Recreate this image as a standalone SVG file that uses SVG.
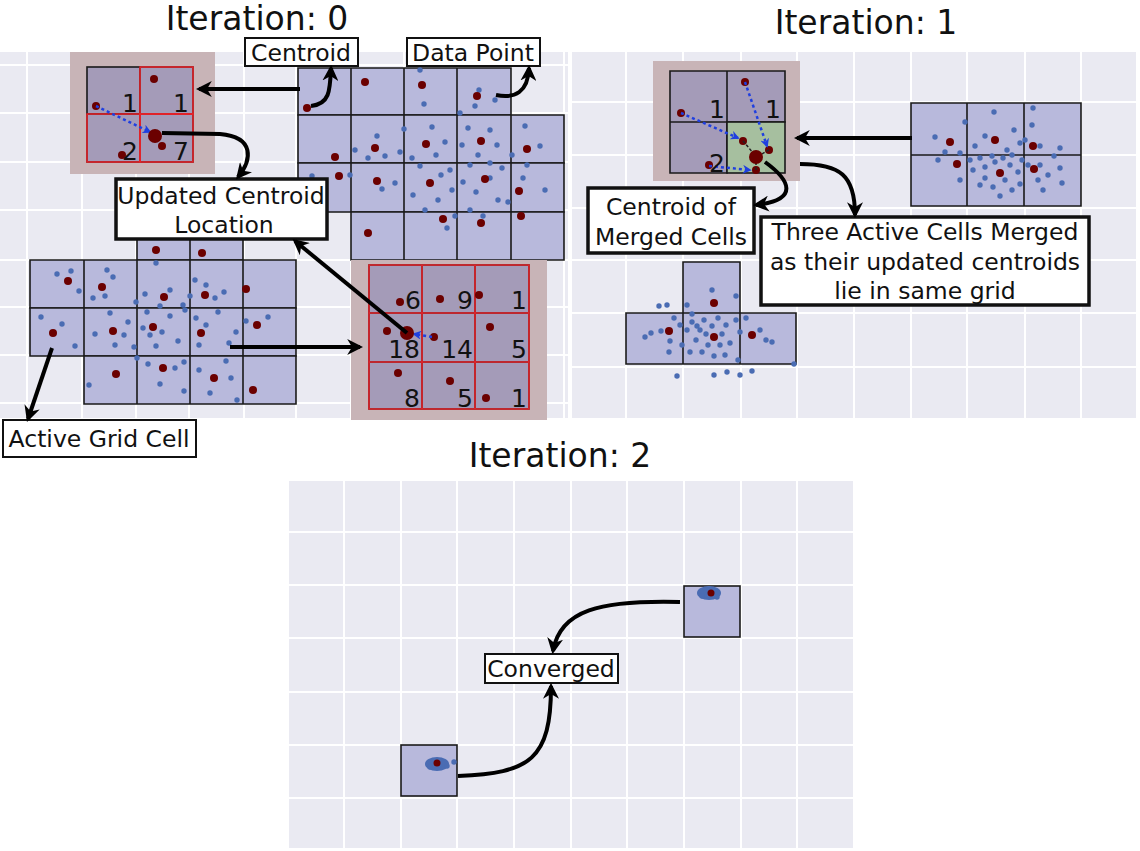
<svg xmlns="http://www.w3.org/2000/svg" width="1140" height="851" viewBox="0 0 1140 851">
<defs>
<style>
.bg{fill:#eaeaf2}
.gl{stroke:#ffffff;stroke-width:2}
.cell{fill:#b8b9dc;stroke:#1a1a1a;stroke-width:1.6}
.zc{fill:#a49bb8;stroke:#1a1a1a;stroke-width:1.6}
.rc{fill:none;stroke:#e8232a;stroke-width:1.6}
.br{fill:#c8b4b7}
.d{fill:#4a6cb3}
.d circle{r:2.7px}
.c{fill:#6b0000}
.t{font-family:"DejaVu Sans",sans-serif;fill:#111}
.title{font-size:33px}
.lab{font-size:23.5px}
.num{font-size:25px;text-anchor:end}
.box{fill:#ffffff;stroke:#111;stroke-width:2}
.box3{fill:#ffffff;stroke:#111;stroke-width:3.5}
.ar{fill:none;stroke:#000;stroke-width:4;marker-end:url(#ah)}
.bd{fill:none;stroke:#1f3fe0;stroke-width:2.5;stroke-dasharray:3 3;marker-end:url(#bh)}
.kd{fill:none;stroke:#222;stroke-width:1.5;stroke-dasharray:3 2}
</style>
<marker id="ah" viewBox="0 0 10 10" refX="8" refY="5" markerWidth="16" markerHeight="16" markerUnits="userSpaceOnUse" orient="auto"><path d="M0,0 L10,5 L0,10 L3,5 z" fill="#000"/></marker>
<marker id="bh" viewBox="0 0 10 10" refX="8" refY="5" markerWidth="9" markerHeight="9" markerUnits="userSpaceOnUse" orient="auto"><path d="M0,0 L10,5 L0,10 L3,5 z" fill="#1f3fe0"/></marker>
</defs>
<rect width="1140" height="851" fill="#ffffff"/>

<g id="titles">
<text class="t title" x="257" y="30" text-anchor="middle">Iteration: 0</text>
<text class="t title" x="866" y="34" text-anchor="middle">Iteration: 1</text>
<text class="t title" x="560" y="467" text-anchor="middle">Iteration: 2</text>
</g>

<g id="panel0">
<rect class="bg" x="0" y="52" width="568" height="366"/>
<path class="gl" d="M27,52V418M82,52V418M136,52V418M189,52V418M244,52V418M296,52V418M351,52V418M404,52V418M458,52V418M511,52V418M564,52V418M0,65H568M0,113H568M0,162H568M0,210H568M0,260H568M0,307H568M0,355H568M0,403H568"/>
</g>
<g id="panel1">
<rect class="bg" x="572" y="52" width="564" height="366"/>
<path class="gl" d="M626,52V418M683,52V418M741,52V418M797,52V418M854,52V418M911,52V418M967,52V418M1025,52V418M1081,52V418M572,102H1136M572,155H1136M572,208H1136M572,260H1136M572,313H1136M572,367H1136"/>
</g>
<g id="panel2">
<rect class="bg" x="289" y="481" width="564" height="367"/>
<path class="gl" d="M344,481V848M401,481V848M457,481V848M514,481V848M571,481V848M627,481V848M684,481V848M741,481V848M797,481V848M289,532H853M289,585H853M289,638H853M289,692H853M289,745H853M289,798H853"/>
</g>

<g id="it0-topleft">
<rect class="br" x="70" y="52" width="145" height="122"/>
<rect class="zc" x="87" y="67" width="53" height="47"/><rect class="zc" x="140" y="67" width="53" height="47"/>
<rect class="zc" x="87" y="114" width="53" height="48"/><rect class="zc" x="140" y="114" width="53" height="48"/>
<rect class="rc" x="140" y="67" width="53" height="47"/><rect class="rc" x="87" y="114" width="53" height="48"/><rect class="rc" x="140" y="114" width="53" height="48"/>
<circle class="c" cx="154" cy="79" r="4"/><circle class="c" cx="96" cy="106" r="4"/><circle class="c" cx="162" cy="146" r="4"/><circle class="c" cx="122" cy="155" r="4"/>
<path class="bd" d="M96,106 L150,132"/>
<circle class="c" cx="155" cy="136" r="7"/>
<text class="t num" x="138" y="112">1</text><text class="t num" x="189" y="112">1</text>
<text class="t num" x="138" y="160">2</text><text class="t num" x="189" y="160">7</text>
</g>

<g id="it0-topright">
<path class="cell" d="M298,68h53v47h-53zM351,68h53v47h-53zM404,68h53v47h-53zM457,68h54v47h-54z"/>
<path class="cell" d="M298,115h53v48h-53zM351,115h53v48h-53zM404,115h53v48h-53zM457,115h54v48h-54zM511,115h53v48h-53z"/>
<path class="cell" d="M298,163h53v49h-53zM351,163h53v49h-53zM404,163h53v49h-53zM457,163h54v49h-54zM511,163h53v49h-53z"/>
<path class="cell" d="M351,212h53v48h-53zM404,212h53v48h-53zM457,212h54v48h-54zM511,212h53v48h-53z"/>
<g class="d">
<circle cx="479" cy="90" r="2.7"/><circle cx="495" cy="100" r="2.7"/><circle cx="475" cy="106" r="2.7"/><circle cx="420" cy="70" r="2.7"/><circle cx="424" cy="104" r="2.7"/><circle cx="460" cy="113" r="2.7"/>
<circle cx="377" cy="136" r="2.7"/><circle cx="404" cy="129" r="2.7"/><circle cx="432" cy="127" r="2.7"/><circle cx="468" cy="128" r="2.7"/><circle cx="462" cy="145" r="2.7"/><circle cx="490" cy="130" r="2.7"/><circle cx="497" cy="145" r="2.7"/><circle cx="525" cy="126" r="2.7"/><circle cx="540" cy="146" r="2.7"/>
<circle cx="355" cy="150" r="2.7"/><circle cx="368" cy="158" r="2.7"/><circle cx="385" cy="156" r="2.7"/><circle cx="400" cy="152" r="2.7"/><circle cx="412" cy="158" r="2.7"/><circle cx="436" cy="155" r="2.7"/><circle cx="445" cy="142" r="2.7"/><circle cx="420" cy="166" r="2.7"/><circle cx="450" cy="170" r="2.7"/><circle cx="470" cy="165" r="2.7"/><circle cx="478" cy="155" r="2.7"/><circle cx="490" cy="163" r="2.7"/><circle cx="502" cy="168" r="2.7"/><circle cx="527" cy="165" r="2.7"/><circle cx="512" cy="155" r="2.7"/>
<circle cx="312" cy="176" r="2.7"/><circle cx="350" cy="175" r="2.7"/><circle cx="382" cy="189" r="2.7"/><circle cx="395" cy="183" r="2.7"/><circle cx="413" cy="195" r="2.7"/><circle cx="441" cy="175" r="2.7"/><circle cx="452" cy="190" r="2.7"/><circle cx="438" cy="200" r="2.7"/><circle cx="463" cy="182" r="2.7"/><circle cx="476" cy="192" r="2.7"/><circle cx="490" cy="178" r="2.7"/><circle cx="498" cy="200" r="2.7"/><circle cx="523" cy="178" r="2.7"/><circle cx="545" cy="190" r="2.7"/><circle cx="508" cy="202" r="2.7"/>
<circle cx="425" cy="210" r="2.7"/><circle cx="455" cy="216" r="2.7"/><circle cx="470" cy="210" r="2.7"/><circle cx="483" cy="216" r="2.7"/><circle cx="447" cy="228" r="2.7"/>
</g>
<g class="c">
<circle cx="307" cy="108" r="4"/><circle cx="365" cy="82" r="4"/><circle cx="422" cy="85" r="4"/><circle cx="477" cy="96" r="4"/>
<circle cx="335" cy="157" r="4"/><circle cx="375" cy="148" r="4"/><circle cx="426" cy="144" r="4"/><circle cx="481" cy="141" r="4"/><circle cx="527" cy="149" r="4"/>
<circle cx="339" cy="176" r="4"/><circle cx="377" cy="181" r="4"/><circle cx="430" cy="183" r="4"/><circle cx="485" cy="179" r="4"/><circle cx="519" cy="191" r="4"/>
<circle cx="443" cy="219" r="4"/><circle cx="481" cy="223" r="4"/><circle cx="521" cy="216" r="4"/><circle cx="368" cy="233" r="4"/>
</g>
</g>

<g id="it0-bottomleft">
<path class="cell" d="M137,212h53v48h-53zM190,212h53v48h-53z"/>
<path class="cell" d="M30,260h54v48h-54zM84,260h53v48h-53zM137,260h53v48h-53zM190,260h53v48h-53zM243,260h53v48h-53z"/>
<path class="cell" d="M30,308h54v48h-54zM84,308h53v48h-53zM137,308h53v48h-53zM190,308h53v48h-53zM243,308h53v48h-53z"/>
<path class="cell" d="M84,356h53v48h-53zM137,356h53v48h-53zM190,356h53v48h-53zM243,356h53v48h-53z"/>
<g class="d">
<circle cx="156" cy="263" r="2.7"/><circle cx="57" cy="274" r="2.7"/><circle cx="71" cy="271" r="2.7"/><circle cx="79" cy="291" r="2.7"/><circle cx="107" cy="270" r="2.7"/><circle cx="113" cy="277" r="2.7"/><circle cx="93" cy="298" r="2.7"/><circle cx="105" cy="296" r="2.7"/>
<circle cx="136" cy="302" r="2.7"/><circle cx="145" cy="294" r="2.7"/><circle cx="170" cy="290" r="2.7"/><circle cx="183" cy="305" r="2.7"/><circle cx="195" cy="280" r="2.7"/><circle cx="206" cy="285" r="2.7"/><circle cx="215" cy="298" r="2.7"/><circle cx="224" cy="292" r="2.7"/><circle cx="160" cy="306" r="2.7"/><circle cx="190" cy="296" r="2.7"/>
<circle cx="41" cy="317" r="2.7"/><circle cx="62" cy="324" r="2.7"/><circle cx="95" cy="334" r="2.7"/><circle cx="110" cy="313" r="2.7"/><circle cx="115" cy="345" r="2.7"/><circle cx="124" cy="335" r="2.7"/><circle cx="128" cy="322" r="2.7"/><circle cx="147" cy="312" r="2.7"/><circle cx="150" cy="335" r="2.7"/><circle cx="156" cy="346" r="2.7"/><circle cx="162" cy="332" r="2.7"/><circle cx="170" cy="316" r="2.7"/><circle cx="178" cy="341" r="2.7"/><circle cx="185" cy="310" r="2.7"/><circle cx="196" cy="318" r="2.7"/><circle cx="199" cy="345" r="2.7"/><circle cx="206" cy="325" r="2.7"/><circle cx="218" cy="312" r="2.7"/><circle cx="229" cy="343" r="2.7"/><circle cx="236" cy="332" r="2.7"/><circle cx="246" cy="321" r="2.7"/><circle cx="268" cy="317" r="2.7"/><circle cx="75" cy="346" r="2.7"/><circle cx="134" cy="347" r="2.7"/><circle cx="143" cy="328" r="2.7"/>
<circle cx="137" cy="358" r="2.7"/><circle cx="148" cy="364" r="2.7"/><circle cx="175" cy="368" r="2.7"/><circle cx="184" cy="362" r="2.7"/><circle cx="199" cy="370" r="2.7"/><circle cx="226" cy="361" r="2.7"/><circle cx="231" cy="378" r="2.7"/><circle cx="89" cy="385" r="2.7"/><circle cx="160" cy="384" r="2.7"/><circle cx="184" cy="391" r="2.7"/><circle cx="210" cy="393" r="2.7"/><circle cx="237" cy="400" r="2.7"/>
</g>
<g class="c">
<circle cx="156" cy="250" r="4"/><circle cx="202" cy="253" r="4"/><circle cx="68" cy="281" r="4"/><circle cx="102" cy="287" r="4"/><circle cx="164" cy="297" r="4"/><circle cx="205" cy="295" r="4"/><circle cx="246" cy="289" r="4"/>
<circle cx="53" cy="333" r="4"/><circle cx="113" cy="331" r="4"/><circle cx="153" cy="327" r="4"/><circle cx="201" cy="333" r="4"/><circle cx="257" cy="325" r="4"/>
<circle cx="116" cy="374" r="4"/><circle cx="163" cy="368" r="4"/><circle cx="214" cy="378" r="4"/><circle cx="253" cy="390" r="4"/>
</g>
</g>

<g id="it0-bottomright">
<rect class="br" x="351" y="260" width="196" height="160"/>
<path class="zc" d="M369,265h53v48h-53zM422,265h53v48h-53zM475,265h54v48h-54zM369,313h53v49h-53zM422,313h53v49h-53zM475,313h54v49h-54zM369,362h53v47h-53zM422,362h53v47h-53zM475,362h54v47h-54z"/>
<path class="rc" d="M369,265h53v48h-53zM422,265h53v48h-53zM475,265h54v48h-54zM369,313h53v49h-53zM422,313h53v49h-53zM475,313h54v49h-54zM369,362h53v47h-53zM422,362h53v47h-53zM475,362h54v47h-54z"/>
<g class="c">
<circle cx="400" cy="302" r="4"/><circle cx="440" cy="299" r="4"/><circle cx="479" cy="295" r="4"/><circle cx="387" cy="331" r="4"/><circle cx="434" cy="337" r="4"/><circle cx="490" cy="327" r="4"/><circle cx="398" cy="373" r="4"/><circle cx="450" cy="381" r="4"/><circle cx="486" cy="398" r="4"/>
</g>
<path class="bd" d="M432,337 L414,334"/>
<circle class="c" cx="407" cy="333" r="7"/>
<text class="t num" x="421" y="309">6</text><text class="t num" x="473" y="309">9</text><text class="t num" x="527" y="309">1</text>
<text class="t num" x="420" y="358">18</text><text class="t num" x="473" y="358">14</text><text class="t num" x="527" y="358">5</text>
<text class="t num" x="420" y="407">8</text><text class="t num" x="473" y="407">5</text><text class="t num" x="527" y="407">1</text>
</g>

<g id="it0-labels">
<rect class="box" x="245" y="38" width="113" height="28"/><text class="t lab" x="301" y="61" text-anchor="middle">Centroid</text>
<rect class="box" x="407" y="38" width="133" height="28"/><text class="t lab" x="473" y="61" text-anchor="middle">Data Point</text>
<rect class="box3" x="116" y="179" width="211" height="60"/><text class="t lab" x="221" y="204" text-anchor="middle">Updated Centroid</text><text class="t lab" x="224" y="233" text-anchor="middle">Location</text>
<rect class="box" x="3" y="420" width="193" height="37"/><text class="t lab" x="99" y="447" text-anchor="middle">Active Grid Cell</text>
</g>

<g id="it1-top">
<rect class="br" x="653" y="61" width="147" height="120"/>
<path class="zc" d="M670,71h57v51h-57zM727,71h58v51h-58zM670,122h57v51h-57z"/>
<rect x="727" y="122" width="58" height="51" fill="#a6bf9f" stroke="#1a1a1a" stroke-width="1.6"/>
<g class="c"><circle cx="745" cy="82" r="4"/><circle cx="681" cy="113" r="4"/><circle cx="743" cy="141" r="4"/><circle cx="769" cy="150" r="4"/><circle cx="709" cy="165" r="4"/><circle cx="756" cy="170" r="4"/></g>
<path class="kd" d="M743,141L754,154M769,150L760,155M756,170L756,162"/>
<path class="bd" d="M681,113 L738,138"/><path class="bd" d="M745,82 L767,146"/><path class="bd" d="M709,166 L750,170"/>
<circle class="c" cx="756" cy="157" r="7"/>
<text class="t num" x="725" y="118">1</text><text class="t num" x="781" y="118">1</text><text class="t num" x="725" y="172">2</text>
</g>

<g id="it1-right">
<path class="cell" d="M911,103h56v52h-56zM967,103h57v52h-57zM1024,103h57v52h-57zM911,155h56v51h-56zM967,155h57v51h-57zM1024,155h57v51h-57z"/>
<g class="d">
<circle cx="935" cy="137" r="2.7"/><circle cx="965" cy="122" r="2.7"/><circle cx="994" cy="112" r="2.7"/><circle cx="975" cy="146" r="2.7"/><circle cx="985" cy="136" r="2.7"/><circle cx="1007" cy="150" r="2.7"/><circle cx="1014" cy="130" r="2.7"/><circle cx="1020" cy="143" r="2.7"/><circle cx="1032" cy="125" r="2.7"/><circle cx="1040" cy="146" r="2.7"/><circle cx="1033" cy="108" r="2.7"/><circle cx="1054" cy="156" r="2.7"/><circle cx="1060" cy="148" r="2.7"/><circle cx="1025" cy="140" r="2.7"/>
<circle cx="938" cy="160" r="2.7"/><circle cx="945" cy="152" r="2.7"/><circle cx="960" cy="153" r="2.7"/><circle cx="970" cy="160" r="2.7"/><circle cx="973" cy="170" r="2.7"/><circle cx="980" cy="158" r="2.7"/><circle cx="985" cy="167" r="2.7"/><circle cx="992" cy="156" r="2.7"/><circle cx="995" cy="162" r="2.7"/><circle cx="1003" cy="158" r="2.7"/><circle cx="1010" cy="165" r="2.7"/><circle cx="1012" cy="155" r="2.7"/><circle cx="1018" cy="172" r="2.7"/><circle cx="1022" cy="160" r="2.7"/><circle cx="1028" cy="165" r="2.7"/><circle cx="1040" cy="165" r="2.7"/><circle cx="1048" cy="175" r="2.7"/><circle cx="1060" cy="168" r="2.7"/><circle cx="1038" cy="180" r="2.7"/><circle cx="1005" cy="180" r="2.7"/><circle cx="993" cy="187" r="2.7"/><circle cx="1012" cy="190" r="2.7"/><circle cx="1020" cy="184" r="2.7"/><circle cx="1000" cy="196" r="2.7"/><circle cx="985" cy="178" r="2.7"/><circle cx="980" cy="185" r="2.7"/><circle cx="1043" cy="190" r="2.7"/><circle cx="1062" cy="183" r="2.7"/><circle cx="960" cy="180" r="2.7"/>
</g>
<g class="c"><circle cx="950" cy="142" r="4"/><circle cx="995" cy="140" r="4"/><circle cx="1033" cy="146" r="4"/><circle cx="957" cy="164" r="4"/><circle cx="1000" cy="173" r="4"/><circle cx="1034" cy="169" r="4"/></g>
</g>

<g id="it1-bottom">
<path class="cell" d="M683,262h57v51h-57zM626,313h57v51h-57zM683,313h57v51h-57zM740,313h56v51h-56z"/>
<g class="d">
<circle cx="712" cy="290" r="2.7"/><circle cx="736" cy="296" r="2.7"/><circle cx="659" cy="306" r="2.7"/><circle cx="667" cy="305" r="2.7"/><circle cx="687" cy="305" r="2.7"/><circle cx="692" cy="314" r="2.7"/>
<circle cx="645" cy="337" r="2.7"/><circle cx="651" cy="333" r="2.7"/><circle cx="661" cy="331" r="2.7"/><circle cx="670" cy="341" r="2.7"/><circle cx="674" cy="318" r="2.7"/><circle cx="680" cy="325" r="2.7"/><circle cx="687" cy="330" r="2.7"/><circle cx="692" cy="322" r="2.7"/><circle cx="696" cy="340" r="2.7"/><circle cx="700" cy="330" r="2.7"/><circle cx="704" cy="320" r="2.7"/><circle cx="708" cy="345" r="2.7"/><circle cx="712" cy="326" r="2.7"/><circle cx="718" cy="318" r="2.7"/><circle cx="722" cy="334" r="2.7"/><circle cx="726" cy="325" r="2.7"/><circle cx="730" cy="343" r="2.7"/><circle cx="736" cy="320" r="2.7"/><circle cx="740" cy="332" r="2.7"/><circle cx="746" cy="318" r="2.7"/><circle cx="760" cy="330" r="2.7"/><circle cx="766" cy="340" r="2.7"/><circle cx="772" cy="342" r="2.7"/><circle cx="702" cy="352" r="2.7"/><circle cx="690" cy="352" r="2.7"/><circle cx="714" cy="356" r="2.7"/><circle cx="725" cy="355" r="2.7"/><circle cx="738" cy="360" r="2.7"/><circle cx="669" cy="352" r="2.7"/><circle cx="682" cy="345" r="2.7"/><circle cx="697" cy="326" r="2.7"/><circle cx="706" cy="334" r="2.7"/><circle cx="720" cy="345" r="2.7"/>
<circle cx="677" cy="376" r="2.7"/><circle cx="714" cy="375" r="2.7"/><circle cx="727" cy="372" r="2.7"/><circle cx="740" cy="375" r="2.7"/><circle cx="752" cy="371" r="2.7"/><circle cx="794" cy="364" r="2.7"/>
</g>
<g class="c"><circle cx="714" cy="303" r="4"/><circle cx="669" cy="331" r="4"/><circle cx="714" cy="337" r="4"/><circle cx="752" cy="335" r="4"/></g>
</g>

<g id="it1-labels">
<rect class="box3" x="588" y="188" width="166" height="65"/><text class="t lab" x="671" y="215" text-anchor="middle">Centroid of</text><text class="t lab" x="671" y="245" text-anchor="middle">Merged Cells</text>
<rect class="box3" x="761" y="217" width="328" height="88"/><text class="t lab" x="925" y="240" text-anchor="middle">Three Active Cells Merged</text><text class="t lab" x="925" y="270" text-anchor="middle">as their updated centroids</text><text class="t lab" x="925" y="299" text-anchor="middle">lie in same grid</text>
</g>

<g id="it2">
<rect class="cell" x="684" y="586" width="56" height="51"/>
<rect class="cell" x="401" y="745" width="56" height="51"/>
<g class="d">
<ellipse cx="709" cy="593" rx="12" ry="7"/><circle cx="702" cy="596" r="3.5"/><circle cx="717" cy="597" r="3.5"/>
<ellipse cx="437" cy="764" rx="12" ry="7"/><circle cx="430" cy="767" r="3.5"/><circle cx="447" cy="766" r="3.5"/><circle cx="454" cy="762" r="3"/>
</g>
<circle class="c" cx="711" cy="593" r="3.5"/><circle class="c" cx="437" cy="763" r="3.5"/>
<rect class="box" x="485" y="654" width="133" height="29"/><text class="t lab" x="551" y="677" text-anchor="middle">Converged</text>
</g>

<g id="connectors">
<path class="ar" d="M300,89 L199,89"/>
<path class="ar" d="M311,106 C330,104 330,90 331,68"/>
<path class="ar" d="M496,95 C515,99 528,92 529,68"/>
<path class="ar" d="M162,133 L220,134 C255,137 252,160 238,177"/>
<path class="ar" d="M407,333 L295,241"/>
<path class="ar" d="M230,347 L360,347"/>
<path class="ar" d="M52,348 L28,419"/>
<path class="ar" d="M912,138 L797,138"/>
<path class="ar" d="M765,162 C790,180 800,200 756,205"/>
<path class="ar" d="M800,164 C840,164 855,175 855,215"/>
<path class="ar" d="M680,602 C600,600 560,610 553,651"/>
<path class="ar" d="M458,776 C530,773 551,760 551,686"/>
</g>
</svg>
